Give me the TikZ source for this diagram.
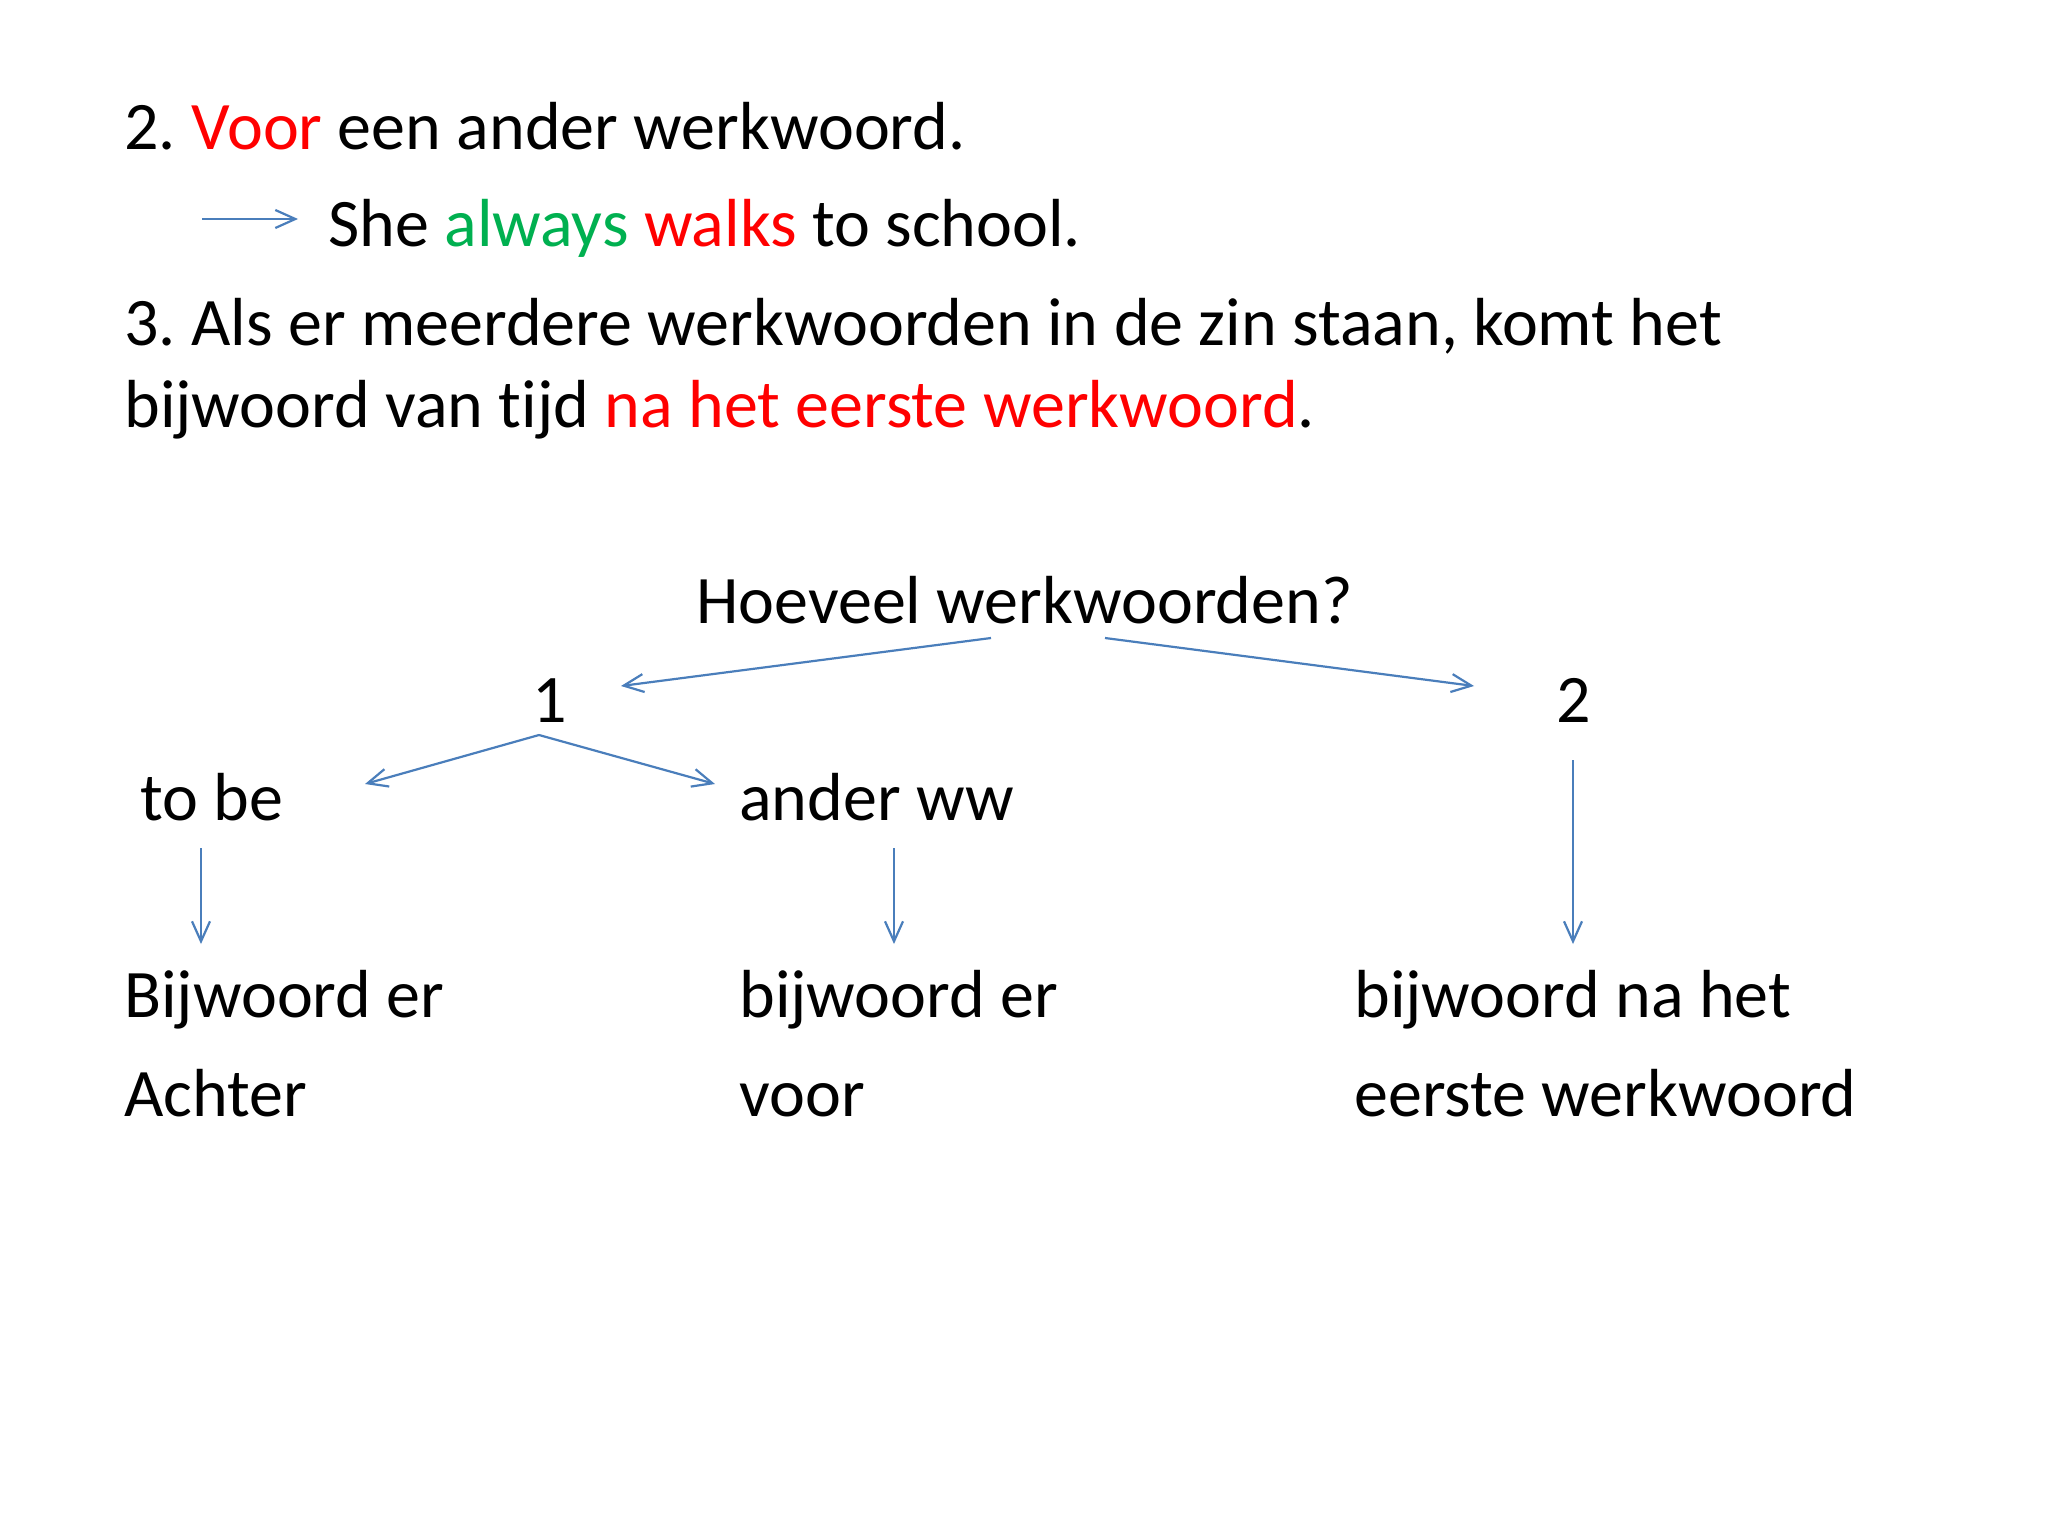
\documentclass[tikz,border=0pt]{standalone}
\usepackage{fontspec}
\setmainfont{Carlito}[Ligatures=NoCommon]
\usetikzlibrary{arrows.meta}
\definecolor{arrowblue}{HTML}{4A7EBB}
\definecolor{pptred}{HTML}{FF0000}
\definecolor{pptgreen}{HTML}{00B050}
\frenchspacing
\begin{document}
\begin{tikzpicture}[x=0.5pt,y=-0.5pt,
  txt/.style={anchor=base west, inner sep=0pt, font=\fontsize{34}{40}\selectfont},
  arr/.style={draw=arrowblue, line width=1.1pt, -{Straight Barb[length=10pt,width=9pt]}}]
\useasboundingbox (0,0) rectangle (2048,1536);
\fill[white] (0,0) rectangle (2048,1536);
% text lines
\node[txt] (l1) at (124,149) {2. \textcolor{pptred}{Voor} een ander werkwoord.};
\node[txt] (l2) at (328,246) {She \textcolor{pptgreen}{always} \textcolor{pptred}{walks} to school.};
\node[txt] (l3) at (124,345) {3. Als er meerdere werkwoorden in de zin staan, komt het};
\node[txt] (l4) at (124,427) {bijwoord van tijd \textcolor{pptred}{na het eerste werkwoord}.};
\coordinate (a0s) at (202,219);
\coordinate (a0e) at (298,219);
\draw[arr] (a0s) -- (a0e);
% tree
\node[txt] (q) at (696,623) {Hoeveel werkwoorden?};
\node[txt, anchor=base] (one) at (550,722) {1};
\node[txt, anchor=base] (two) at (1574,722) {2};
\node[txt] (tobe) at (140,820) {to be};
\node[txt] (ander) at (739,820) {ander ww};
\node[txt] (r1a) at (124,1017) {Bijwoord er};
\node[txt] (r1b) at (124,1116) {Achter};
\node[txt] (r2a) at (739,1017) {bijwoord er};
\node[txt] (r2b) at (739,1116) {voor};
\node[txt] (r3a) at (1354,1017) {bijwoord na het};
\node[txt] (r3b) at (1354,1116) {eerste werkwoord};
% connector points
\coordinate (qL) at (991,638);
\coordinate (qR) at (1105,638);
\coordinate (oneIn) at (621,686);
\coordinate (twoIn) at (1474,686);
\coordinate (oneOut) at (539,735);
\coordinate (tobeIn) at (365,784);
\coordinate (anderIn) at (715,784);
\coordinate (tobeOut) at (201,848);
\coordinate (r1In) at (201,944);
\coordinate (anderOut) at (894,848);
\coordinate (r2In) at (894,944);
\coordinate (twoOut) at (1573,760);
\coordinate (r3In) at (1573,944);
\draw[arr] (qL) -- (oneIn);
\draw[arr] (qR) -- (twoIn);
\draw[arr] (oneOut) -- (tobeIn);
\draw[arr] (oneOut) -- (anderIn);
\draw[arr] (tobeOut) -- (r1In);
\draw[arr] (anderOut) -- (r2In);
\draw[arr] (twoOut) -- (r3In);
\end{tikzpicture}
\end{document}
